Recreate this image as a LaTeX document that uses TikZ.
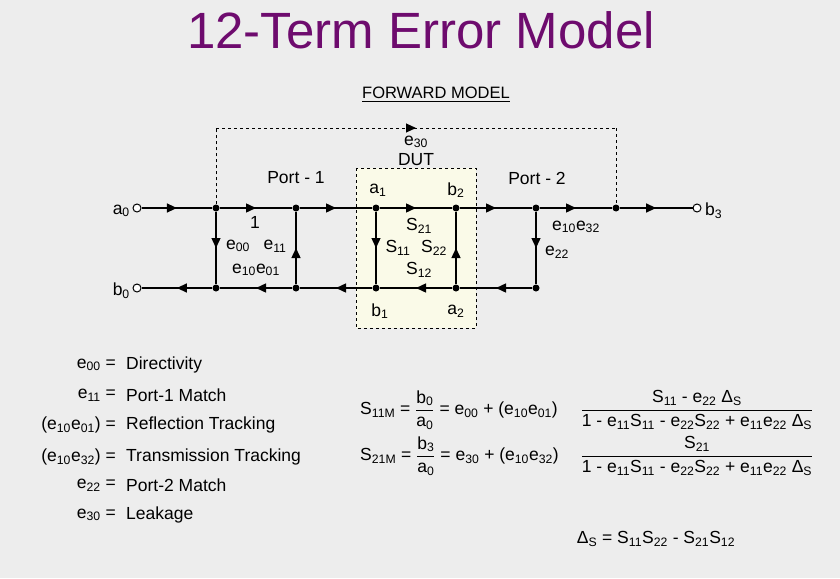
\documentclass[tikz,border=0pt]{standalone}
\usepackage{amsmath}
\usepackage{fontspec}
\setmainfont{Liberation Sans}
\usetikzlibrary{decorations.markings,arrows.meta}
\definecolor{ttl}{HTML}{6E0B6E}
\definecolor{bg}{HTML}{EDEDED}
\definecolor{dutfill}{HTML}{FAFAE8}
\newcommand{\sbs}[1]{\textsubscript{#1}}
\newcommand{\DS}{Δ\sbs{S}}
\newcommand{\frc}[2]{$\dfrac{\mbox{#1}}{\mbox{#2}}$}
\tikzset{
 x=1pt,y=-1pt,
 wire/.style={line width=1.4pt},
 arr/.style={wire,decoration={markings,mark=at position 0.5 with {\arrow{Triangle[length=10pt,width=9pt]}}},postaction={decorate}},
 dot/.style={circle,fill=black,inner sep=0pt,minimum size=7pt},
 port/.style={circle,draw,fill=white,line width=1pt,inner sep=0pt,minimum size=8pt},
 lbl/.style={font=\fontsize{17.5}{20}\selectfont,inner sep=1pt},
 leg/.style={font=\fontsize{17.5}{20}\selectfont,inner sep=0pt},
}
\begin{document}
\begin{tikzpicture}
\useasboundingbox[fill=bg] (0,0) rectangle (840,578);
\node[text=ttl,font=\fontsize{51}{56}\selectfont] (title) at (421,30) {12-Term Error Model};
\node[font=\fontsize{16.5}{18}\selectfont] (fwd) at (436,95) {\underline{FORWARD MODEL}};
% DUT box
\draw[dashed,line width=1pt,fill=dutfill] (356,168) rectangle (476,328);
\node[lbl] (dut) at (416,160) {DUT};
% nodes
\node[port] (a0) at (137,208) {};
\node[port] (b0) at (137,288) {};
\node[port] (b3) at (697,208) {};
\foreach \n/\x in {t1/216,t2/296,t3/376,t4/456,t5/536,t6/616}{\node[dot] (\n) at (\x,208) {};}
\foreach \n/\x in {u1/216,u2/296,u3/376,u4/456,u5/536}{\node[dot] (\n) at (\x,288) {};}
% top wires
\draw[arr] (a0) -- (t1);
\draw[arr] (t1) -- (t2);
\draw[arr] (t2) -- (t3);
\draw[arr] (t3) -- (t4);
\draw[arr] (t4) -- (t5);
\draw[arr] (t5) -- (t6);
\draw[arr] (t6) -- (b3);
% bottom wires
\draw[arr] (u1) -- (b0);
\draw[arr] (u2) -- (u1);
\draw[arr] (u3) -- (u2);
\draw[arr] (u4) -- (u3);
\draw[arr] (u5) -- (u4);
% verticals
\draw[arr] (t1) -- (u1);
\draw[arr] (u2) -- (t2);
\draw[arr] (t3) -- (u3);
\draw[arr] (u4) -- (t4);
\draw[arr] (t5) -- (u5);
% leakage
\coordinate (c1) at (216,128);
\coordinate (c2) at (616,128);
\draw[dashed,line width=1pt] (t1) -- (c1);
\draw[dashed,line width=1pt,decoration={markings,mark=at position 0.5 with {\arrow{Triangle[length=10pt,width=9pt]}}},postaction={decorate}] (c1) -- (c2);
\draw[dashed,line width=1pt] (c2) -- (t6);
% labels
\node[lbl,anchor=east] (la0) at (131,211) {a\sbs{0}};
\node[lbl,anchor=east] (lb0) at (131,291) {b\sbs{0}};
\node[lbl,anchor=west] (lb3) at (704,211) {b\sbs{3}};
\node[lbl] (le30) at (416,142) {e\sbs{30}};
\node[lbl] (p1) at (296,178) {Port - 1};
\node[lbl] (p2) at (537,178) {Port - 2};
\node[lbl] (one) at (255,222) {1};
\node[lbl] (e00) at (238,246) {e\sbs{00}};
\node[lbl] (e11) at (275,246) {e\sbs{11}};
\node[lbl] (e1001) at (256,270) {e\sbs{10}e\sbs{01}};
\node[lbl] (la1) at (378,190) {a\sbs{1}};
\node[lbl] (lb2) at (456,190) {b\sbs{2}};
\node[lbl] (s21) at (419,226) {S\sbs{21}};
\node[lbl] (s11) at (398,248) {S\sbs{11}};
\node[lbl] (s22) at (434,248) {S\sbs{22}};
\node[lbl] (s12) at (419,270) {S\sbs{12}};
\node[lbl] (lb1) at (380,311) {b\sbs{1}};
\node[lbl] (la2) at (456,311) {a\sbs{2}};
\node[lbl] (e1032) at (576,227) {e\sbs{10}e\sbs{32}};
\node[lbl] (e22) at (557,252) {e\sbs{22}};
% legend
\foreach \y/\a/\b in {365/{e\sbs{00} =}/Directivity, 395/{e\sbs{11} =}/Port-1 Match, 425/{(e\sbs{10}e\sbs{01}) =}/Reflection Tracking, 457/{(e\sbs{10}e\sbs{32}) =}/Transmission Tracking, 485/{e\sbs{22} =}/Port-2 Match, 515/{e\sbs{30} =}/Leakage}{
 \node[leg,anchor=east] at (116,\y) {\a};
 \node[leg,anchor=west] at (126,\y) {\b};
}
% equations
\node[leg,anchor=west] (eq1) at (360,410) {S\sbs{11M} = \frc{b\sbs{0}}{a\sbs{0}} = e\sbs{00} + (e\sbs{10}e\sbs{01})};
\node[leg] (f1) at (697,410) {\frc{S\sbs{11} - e\sbs{22} \DS}{1 - e\sbs{11}S\sbs{11} - e\sbs{22}S\sbs{22} + e\sbs{11}e\sbs{22} \DS}};
\node[leg,anchor=west] (eq2) at (360,456) {S\sbs{21M} = \frc{b\sbs{3}}{a\sbs{0}} = e\sbs{30} + (e\sbs{10}e\sbs{32})};
\node[leg] (f2) at (697,456) {\frc{S\sbs{21}}{1 - e\sbs{11}S\sbs{11} - e\sbs{22}S\sbs{22} + e\sbs{11}e\sbs{22} \DS}};
\node[leg] (dl) at (656,539) {\DS{} = S\sbs{11}S\sbs{22} - S\sbs{21}S\sbs{12}};
\end{tikzpicture}
\end{document}
